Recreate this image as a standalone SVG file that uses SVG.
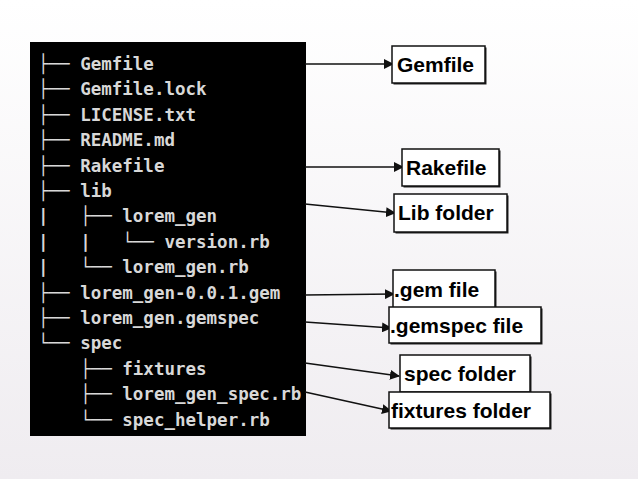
<svg xmlns="http://www.w3.org/2000/svg" width="638" height="479" viewBox="0 0 638 479">
<defs>
<linearGradient id="bg" x1="0" y1="0" x2="0" y2="1"><stop offset="0" stop-color="#ffffff"/><stop offset="1" stop-color="#efecf0"/></linearGradient>
<marker id="ah" markerWidth="10" markerHeight="10" refX="9" refY="5" orient="auto" markerUnits="userSpaceOnUse"><path d="M0,0 L10,5 L0,10 Z" fill="#111"/></marker>
<style>
.t{font-family:"DejaVu Sans Mono",monospace;font-size:17.5px;font-weight:bold;fill:#d8d8d8;white-space:pre}
.b rect.s{fill:#222}
.b rect.f{fill:#fff;stroke:#111;stroke-width:1.5}
.b text{font-family:"Liberation Sans",Arial,sans-serif;font-weight:bold;font-size:21px;fill:#000}
.c line{stroke:#111;stroke-width:1.5;marker-end:url(#ah)}
</style>
</defs>
<rect width="638" height="479" fill="url(#bg)"/>
<g id="tree">
<rect x="30" y="42" width="276" height="394" fill="#000"/>
<text class="t" xml:space="preserve"><tspan x="38" y="70">├── Gemfile</tspan><tspan x="38" y="95.4">├── Gemfile.lock</tspan><tspan x="38" y="120.8">├── LICENSE.txt</tspan><tspan x="38" y="146.2">├── README.md</tspan><tspan x="38" y="171.6">├── Rakefile</tspan><tspan x="38" y="197">├── lib</tspan><tspan x="38" y="222.4">|   ├── lorem_gen</tspan><tspan x="38" y="247.8">|   |   └── version.rb</tspan><tspan x="38" y="273.2">|   └── lorem_gen.rb</tspan><tspan x="38" y="298.6">├── lorem_gen-0.0.1.gem</tspan><tspan x="38" y="324">├── lorem_gen.gemspec</tspan><tspan x="38" y="349.4">└── spec</tspan><tspan x="38" y="374.8">    ├── fixtures</tspan><tspan x="38" y="400.2">    ├── lorem_gen_spec.rb</tspan><tspan x="38" y="425.6">    └── spec_helper.rb</tspan></text>
</g>
<g class="c" id="connectors">
<line x1="305" y1="64" x2="393" y2="64"/>
<line x1="305" y1="167" x2="403" y2="167"/>
<line x1="305" y1="204" x2="395" y2="213"/>
<line x1="305" y1="295" x2="394" y2="294"/>
<line x1="305" y1="322" x2="391" y2="328"/>
<line x1="305" y1="363" x2="399" y2="376"/>
<line x1="305" y1="392" x2="391" y2="411"/>
</g>
<g class="b" id="n-gemfile"><rect class="s" x="393.5" y="47.5" width="93" height="37"/><rect class="f" x="392" y="46" width="93" height="37"/><text x="397" y="72">Gemfile</text></g>
<g class="b" id="n-rakefile"><rect class="s" x="403.5" y="150.5" width="97" height="37"/><rect class="f" x="402" y="149" width="97" height="37"/><text x="406" y="175">Rakefile</text></g>
<g class="b" id="n-lib"><rect class="s" x="395.5" y="195.5" width="113" height="38"/><rect class="f" x="394" y="194" width="113" height="38"/><text x="398" y="220">Lib folder</text></g>
<g class="b" id="n-gem"><rect class="s" x="394.5" y="271.5" width="102" height="38"/><rect class="f" x="393" y="270" width="102" height="38"/><text x="394" y="297">.gem file</text></g>
<g class="b" id="n-gemspec"><rect class="s" x="390.5" y="308.5" width="152" height="36"/><rect class="f" x="389" y="307" width="152" height="36"/><text x="390" y="333">.gemspec file</text></g>
<g class="b" id="n-spec"><rect class="s" x="401.5" y="356.5" width="130" height="37"/><rect class="f" x="400" y="355" width="130" height="37"/><text x="404" y="381">spec folder</text></g>
<g class="b" id="n-fixtures"><rect class="s" x="390.5" y="393.5" width="161" height="36"/><rect class="f" x="389" y="392" width="161" height="36"/><text x="391" y="418">fixtures folder</text></g>
</svg>
